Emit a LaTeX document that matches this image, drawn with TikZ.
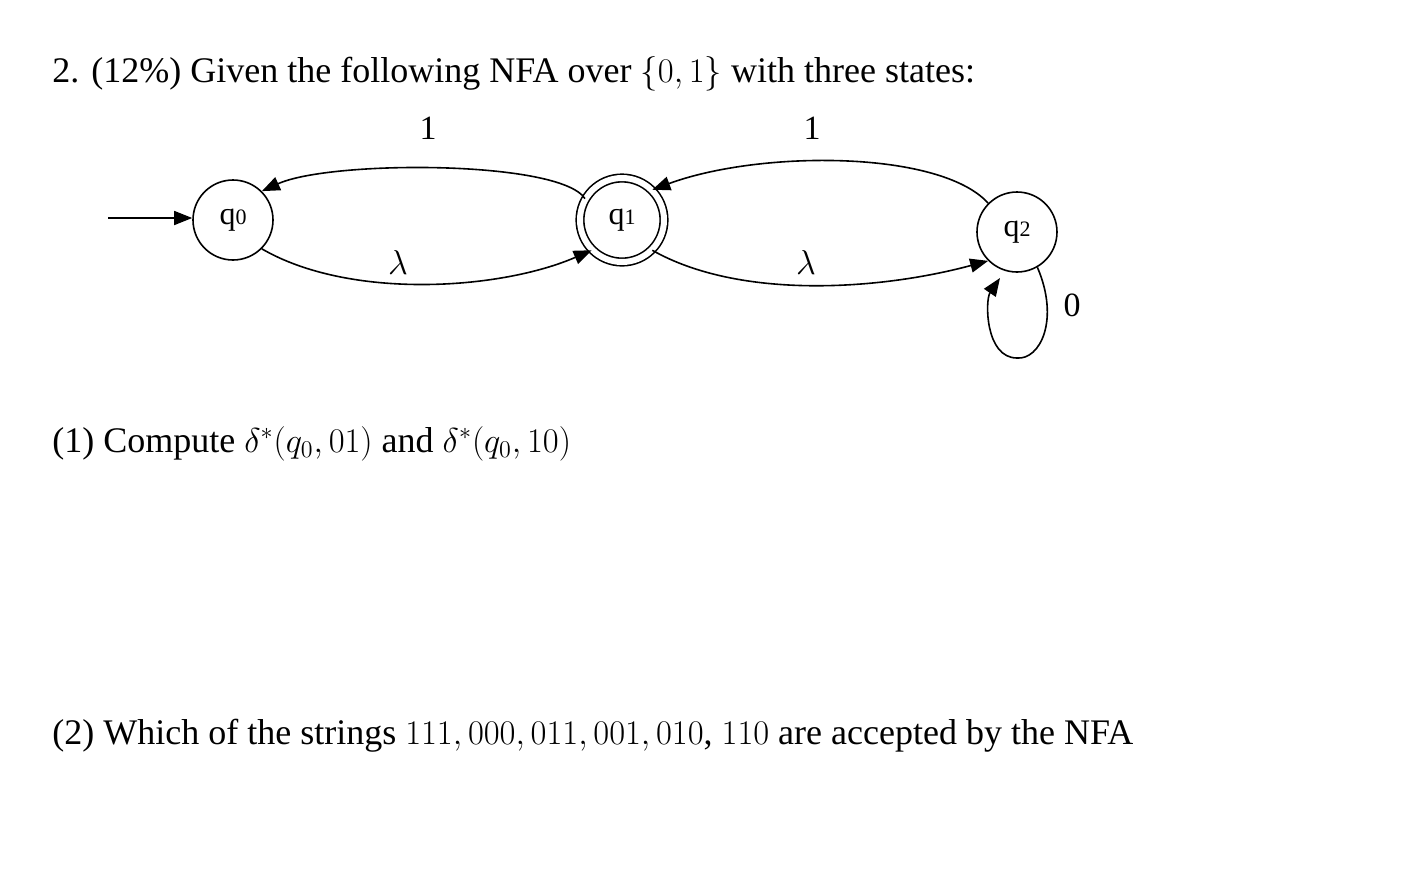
\documentclass[tikz,border=0pt]{standalone}
\usepackage{fontspec}
\setmainfont{Liberation Serif}
\usetikzlibrary{arrows.meta}
\begin{document}
\begin{tikzpicture}[x=0.5pt,y=-0.5pt,
  st/.style={circle,draw,line width=0.8pt,minimum size=40pt,inner sep=0pt,font=\fontsize{16}{19}\selectfont},
  edge/.style={-{Triangle[length=9pt,width=7pt]},line width=0.8pt},
  lbl/.style={font=\fontsize{17}{20}\selectfont,inner sep=0pt},
  txt/.style={font=\fontsize{18}{21}\selectfont,anchor=base west,inner sep=0pt}]
\useasboundingbox (0,0) rectangle (1410,874);
\node[txt] (t1) at (52,82) {2. (12\%) Given the following NFA over $\{0,1\}$ with three states:};
\node[st] (q0) at (233,220) {q{\fontsize{11}{12}\selectfont 0}};
\node[st,double,double distance=3pt,minimum size=42pt] (q1) at (622,220) {q{\fontsize{11}{12}\selectfont 1}};
\node[st] (q2) at (1017,232) {q{\fontsize{11}{12}\selectfont 2}};
\coordinate (s) at (108,218);
\draw[edge] (s) -- (q0.west |- s);
\draw[edge] (q1.150) .. controls (560,160) and (330,160) .. (q0.north east);
\draw[edge] (q0.south east) .. controls (350,300) and (500,290) .. (q1.south west);
\draw[edge] (q1.south east) .. controls (740,300) and (880,290) .. (q2.south west);
\draw[edge] (q2.north west) .. controls (940,150) and (760,150) .. (q1.north east);
\draw[edge] (q2.-60) .. controls (1060,320) and (1040,360) .. (1017,358) .. controls (985,358) and (985,300) .. (1000,278);
\node[lbl] (l1) at (428,128) {1};
\node[lbl] (l2) at (812,128) {1};
\node[lbl] (l3) at (398,262) {$\lambda$};
\node[lbl] (l4) at (806,262) {$\lambda$};
\node[lbl] (l5) at (1072,305) {0};
\node[txt] (t2) at (52,452) {(1) Compute $\delta^*(q_0,01)$ and $\delta^*(q_0,10)$};
\node[txt] (t3) at (52,744) {(2) Which of the strings $111, 000, 011, 001, 010$, $110$ are accepted by the NFA};
\end{tikzpicture}
\end{document}
